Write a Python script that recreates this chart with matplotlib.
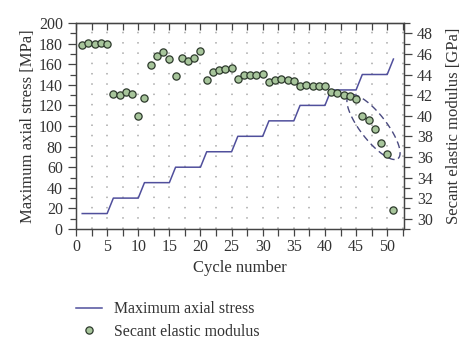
import numpy as np
import matplotlib
matplotlib.use("Agg")
import matplotlib.pyplot as plt
from matplotlib.ticker import MultipleLocator
from matplotlib.lines import Line2D

plt.rcParams['font.family'] = ['Liberation Serif', 'DejaVu Serif']
plt.rcParams['font.size'] = 11

cycles = np.arange(1, 52)
max_stress = [15]*5 + [30]*5 + [45]*5 + [60]*5 + [75]*5 + [90]*5 + [105]*5 + \
             [120]*5 + [135]*5 + [150]*5 + [165]
secant_modulus = [
    46.9, 47.1, 46.96, 47.05, 47.0,
    42.13, 42.03, 42.26, 42.06, 40.0,
    41.67, 44.95, 45.79, 46.18, 45.5,
    43.84, 45.56, 45.3, 45.56, 46.25,
    43.49, 44.23, 44.4, 44.53, 44.62,
    43.52, 44.0, 44.0, 44.0, 44.07,
    43.26, 43.49, 43.55, 43.42, 43.33,
    42.84, 43.0, 42.9, 42.84, 42.84,
    42.26, 42.23, 42.03, 41.87, 41.64,
    40.0, 39.57, 38.73, 37.36, 36.26,
    30.88,
]

line_color = '#504f9c'
fill_color = '#a7c59b'
edge_color = '#2d3a2c'
text_color = '#333333'

fig = plt.figure(figsize=(4.74, 3.49), dpi=100)
ax = fig.add_axes([76/474, 1-229/349, (404-76)/474, (229-23)/349])
ax2 = ax.twinx()

ax.plot(cycles, max_stress, color=line_color, lw=1.1, zorder=3)
ax2.plot(cycles, secant_modulus, 'o', ms=5.2, mfc=fill_color, mec=edge_color,
         mew=0.9, zorder=4)

# dashed ellipse highlighting the final drop
t = np.linspace(0, 2*np.pi, 200)
cx, cy = 47.8, 38.9
ex = cx + 3.94*np.cos(t) + 1.65*np.sin(t)
ey = cy - 3.06*np.cos(t) + 0.78*np.sin(t)
ax2.plot(ex, ey, color='#4a4a80', lw=1.0, ls=(0, (5, 3)), zorder=3)

ax.set_xlim(0, 52.7)
ax.set_ylim(0, 200)
ax2.set_ylim(29, 49)

ax.xaxis.set_major_locator(MultipleLocator(5))
ax.xaxis.set_minor_locator(MultipleLocator(2.5))
ax.yaxis.set_major_locator(MultipleLocator(20))
ax.yaxis.set_minor_locator(MultipleLocator(10))
ax2.yaxis.set_major_locator(MultipleLocator(2))
ax2.yaxis.set_minor_locator(MultipleLocator(1))

# dot grid: vertical dotted lines whose dots fall every ~10 px
lw_grid = 1.1
period_pt = 10.3 * 72 / 100
ax.grid(axis='x', which='both', color='#a8a8a8',
        ls=(0, (1, period_pt/lw_grid - 1)), lw=lw_grid)
ax.set_axisbelow(True)

for a in (ax, ax2):
    a.tick_params(which='major', direction='out', length=6, width=0.9,
                  colors='#444444', labelcolor=text_color, labelsize=11.5)
    a.tick_params(which='minor', direction='out', length=4, width=0.9,
                  colors='#444444')
    for s in a.spines.values():
        s.set_color('#444444')
        s.set_linewidth(0.9)

ax.tick_params(axis='x', which='both', length=5)
ax.tick_params(axis='x', which='major', pad=2)

sec = ax.secondary_xaxis('top')
sec.xaxis.set_major_locator(MultipleLocator(2.5))
sec.tick_params(direction='in', length=5, width=0.9, colors='#444444',
                labeltop=False)

ax.set_xlabel('Cycle number', color=text_color, fontsize=12, labelpad=4)
ax.set_ylabel('Maximum axial stress [MPa]', color=text_color, fontsize=12,
              labelpad=2)
ax2.set_ylabel('Secant elastic modulus [GPa]', color=text_color, fontsize=12,
               labelpad=9)

handles = [
    Line2D([], [], color=line_color, lw=1.1),
    Line2D([], [], ls='none', marker='o', ms=5.2, mfc=fill_color,
           mec=edge_color, mew=0.9),
]
fig.legend(handles, ['Maximum axial stress', 'Secant elastic modulus'],
           loc='upper left', bbox_to_anchor=(70/474, 1-295/349), frameon=False,
           fontsize=11.4, labelcolor=text_color, handlelength=1.6,
           handletextpad=0.75, labelspacing=0.4, borderaxespad=0)

fig.savefig('out.png', dpi=100)
